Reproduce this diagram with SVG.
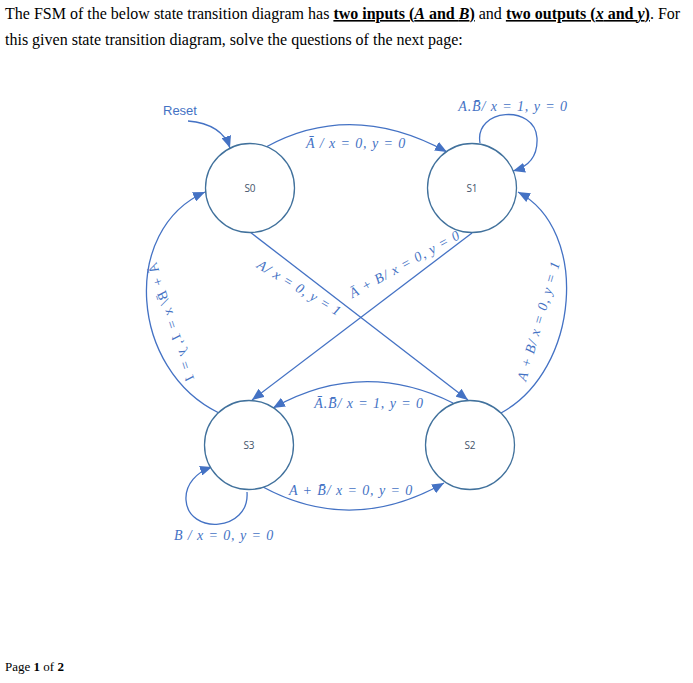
<svg xmlns="http://www.w3.org/2000/svg" width="693" height="683" viewBox="0 0 693 683">
<style>
.hdr{font-family:"Liberation Serif","Times New Roman",serif;font-size:16px;fill:#000}
.b{font-weight:bold;text-decoration:underline}
.i{font-style:italic}
.st{fill:#fff;stroke:#41719C;stroke-width:1.3}
.sl{font-family:"Open Sans","Liberation Sans",sans-serif;font-size:10px;fill:#44546A;text-anchor:middle}
.ed{fill:none;stroke:#4472C4;stroke-width:1.3}
.m{font-family:"Liberation Serif","DejaVu Serif",serif;font-style:italic;font-size:14px;letter-spacing:0.9px;fill:#4472C4;text-anchor:middle}
.reset{font-family:"Liberation Sans",Arial,sans-serif;font-size:13px;fill:#4472C4}
</style>
<defs>
<marker id="ah" markerUnits="userSpaceOnUse" markerWidth="14" markerHeight="10" refX="12" refY="5" orient="auto">
<path d="M0,0 L12,5 L0,10 Z" fill="#4472C4"/>
</marker>
</defs>
<rect width="693" height="683" fill="#fff"/>
<text class="hdr" x="5" y="19">The FSM of the below state transition diagram has <tspan class="b">two inputs (<tspan class="i">A</tspan> and <tspan class="i">B</tspan>)</tspan> and <tspan class="b">two outputs (<tspan class="i">x</tspan> and <tspan class="i">y</tspan>)</tspan>. For</text>
<text class="hdr" x="5" y="45">this given state transition diagram, solve the questions of the next page:</text>
<text class="hdr" x="5" y="671" style="font-size:13px">Page <tspan font-weight="bold">1</tspan> of <tspan font-weight="bold">2</tspan></text>

<g id="connectors">
<path class="ed" d="M188,121 Q222,124 230,148" marker-end="url(#ah)"/>
<path class="ed" d="M266,147 Q352,100 447,152" marker-end="url(#ah)"/>
<path class="ed" d="M480,143 C474,108 535,104 537,138 C538,158 527,167 513,171" marker-end="url(#ah)"/>
<path class="ed" d="M219,413 C130,370 120,230 205,192" marker-end="url(#ah)"/>
<path class="ed" d="M501,413 C580,370 590,230 518,192" marker-end="url(#ah)"/>
<path class="ed" d="M250,232 L468,400" marker-end="url(#ah)"/>
<path class="ed" d="M472,233 L252,400" marker-end="url(#ah)"/>
<path class="ed" d="M453,403 Q362,358 273,408" marker-end="url(#ah)"/>
<path class="ed" d="M263,487 Q352,535 444,483" marker-end="url(#ah)"/>
<path class="ed" d="M247,492 C250,532 188,535 186,500 C185,484 197,472 212,467" marker-end="url(#ah)"/>
</g>

<g id="S0"><circle class="st" cx="250" cy="188" r="44.5"/><text class="sl" x="250" y="192">S0</text></g>
<g id="S1"><circle class="st" cx="472" cy="188" r="44.5"/><text class="sl" x="472" y="192">S1</text></g>
<g id="S2"><circle class="st" cx="470" cy="445" r="44.5"/><text class="sl" x="470" y="449">S2</text></g>
<g id="S3"><circle class="st" cx="249" cy="445" r="44.5"/><text class="sl" x="249" y="449">S3</text></g>

<g id="labels">
<text class="reset" x="163" y="115">Reset</text>
<text class="m" x="356" y="148">Ā / x = 0, y = 0</text>
<text class="m" x="513" y="111">A.B̄/ x = 1, y = 0</text>
<text class="m" x="369" y="408">Ā.B̄/ x = 1, y = 0</text>
<text class="m" x="351" y="495">A + B̄/ x = 0, y = 0</text>
<text class="m" x="224" y="540">B / x = 0, y = 0</text>
<text class="m" transform="translate(297,292) rotate(31)">A/ x = 0, y = 1</text>
<text class="m" transform="translate(407,268) rotate(-29)">Ā + B/ x = 0, y = 0</text>
<text class="m" transform="translate(172,323) rotate(72) scale(1,-1)" dy="4">Ā + B̄/ x = 1, y = 1</text>
<text class="m" transform="translate(543,322) rotate(-74)">A + B/ x = 0, y = 1</text>
</g>
</svg>
